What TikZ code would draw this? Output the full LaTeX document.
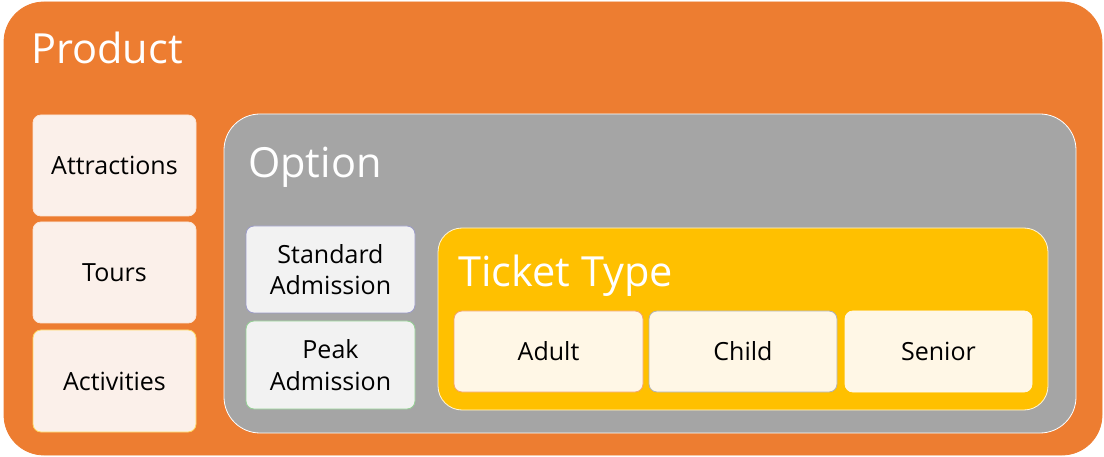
\documentclass[tikz,border=0pt]{standalone}
\usepackage{fontspec}
\setmainfont{Open Sans}
\definecolor{prodorange}{HTML}{ED7D31}
\definecolor{optgray}{HTML}{A5A5A5}
\definecolor{tickgold}{HTML}{FFC000}
\definecolor{prodtint}{HTML}{FBF0EA}
\definecolor{opttint}{HTML}{F2F2F2}
\definecolor{ticktint}{HTML}{FFF7E6}
\tikzset{
  panel/.style={rounded corners=#1, line width=0.8pt},
  title/.style={anchor=base west, text=white, inner sep=0pt, font=\fontsize{41.5}{44}\selectfont},
  item/.style={draw=#1, rounded corners=8pt, line width=0.8pt, inner sep=0pt,
    align=center, text=black, font=\fontsize{25}{31.5}\selectfont}
}
\begin{document}
\begin{tikzpicture}[x=1pt,y=-1pt]
    \useasboundingbox (0,0) rectangle (1104,457);
    % nested panels
    \draw[panel=40pt, fill=prodorange, draw=prodorange] (4,2) rectangle (1102,455);
    \draw[panel=36pt, fill=optgray, draw=white] (224,114) rectangle (1076,433);
    \draw[panel=24pt, fill=tickgold, draw=white!85!tickgold] (438,228) rectangle (1048,410);

    \node[title] (product) at (31,64) {Product};
    \node[title] (option) at (248,178) {Option};
    \node[title] (tickettype) at (458,287) {Ticket Type};

    % product items
    \node[item=white!80!prodorange, fill=prodtint, minimum width=163pt, minimum height=101pt] (attractions) at (114.5,165.5) {Attractions};
    \node[item=white!80!prodorange, fill=prodtint, minimum width=163pt, minimum height=101pt] (tours) at (114.5,272.5) {Tours};
    \node[item=tickgold!60!white, fill=prodtint, minimum width=163pt, minimum height=102pt] (activities) at (114.5,381) {Activities};

    % option items
    \node[item=blue!30!gray!60!white, fill=opttint, minimum width=169pt, minimum height=87pt] (standard) at (330.5,269.5) {Standard\\Admission};
    \node[item=green!40!gray!60!white, fill=opttint, minimum width=169pt, minimum height=88pt] (peak) at (330.5,365) {Peak\\Admission};

    % ticket type items
    \node[item=prodorange!70!white, fill=ticktint, minimum width=189pt, minimum height=81pt] (adult) at (548.5,351.5) {Adult};
    \node[item=gray!60!white, fill=ticktint, minimum width=188pt, minimum height=81pt] (child) at (743,351.5) {Child};
    \node[item=ticktint, fill=ticktint, minimum width=187pt, minimum height=81pt] (senior) at (938.5,351.5) {Senior};
\end{tikzpicture}
\end{document}
